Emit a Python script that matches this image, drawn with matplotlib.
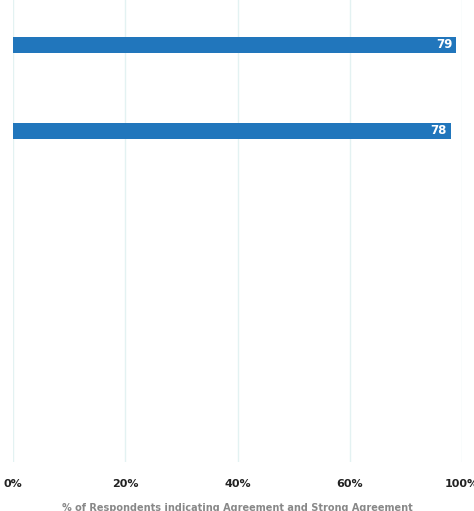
import matplotlib.pyplot as plt

# data
categories = ['A', 'B']
values = [79, 78]
tick_values = [0, 20, 40, 60, 80]
tick_labels = ['0%', '20%', '40%', '60%', '100%']

fig = plt.figure(figsize=(4.74, 5.11), dpi=100)
ax = fig.add_axes([13 / 474, 1 - 462 / 511, 449 / 474, 462 / 511])

ypos = range(len(categories))
ax.barh(ypos, values, height=0.19, color='#2176bc', zorder=3)
for y, v in zip(ypos, values):
    ax.text(v - 0.7, y, str(v), color='white', fontweight='bold',
            fontsize=8.5, ha='right', va='center', zorder=4)

ax.set_xlim(0, 80)
ax.set_ylim(4.85, -0.52)
ax.set_xticks(tick_values)
ax.set_xticklabels(tick_labels, fontsize=8, fontweight='bold', color='#222222')
ax.set_yticks([])
ax.tick_params(axis='x', length=0, pad=12)
ax.grid(axis='x', color='#e3f2f2', linewidth=1, zorder=0)
for s in ax.spines.values():
    s.set_visible(False)
ax.set_xlabel('% of Respondents indicating Agreement and Strong Agreement',
              fontsize=7, color='#888888', fontweight='bold', labelpad=10)

fig.savefig('out.png', dpi=100)
